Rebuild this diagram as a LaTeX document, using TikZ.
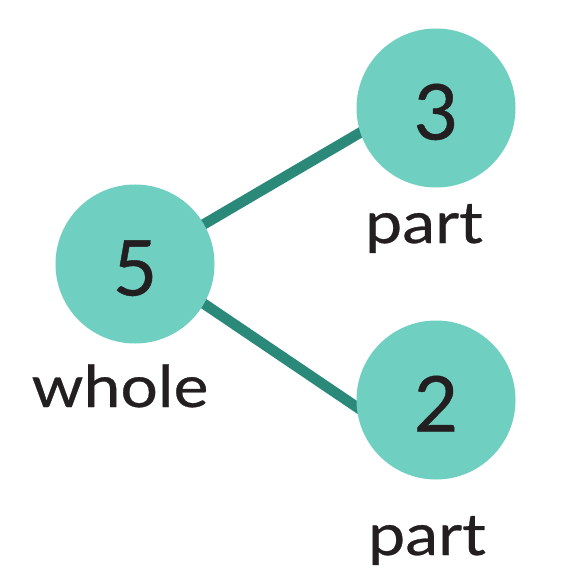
\documentclass[tikz,border=0pt]{standalone}
\usepackage{fontspec}
\usetikzlibrary{backgrounds}
\newfontfamily\digitfont{Lato}[FakeBold=0.5]
\newfontfamily\wordfont{Lato}[FakeBold=0.5,FakeStretch=1.14]
\definecolor{disc}{HTML}{6FCFC0}
\definecolor{bar}{HTML}{2B897A}
\definecolor{ink}{HTML}{231F20}
\begin{document}
\begin{tikzpicture}[x=1pt,y=-1pt,
  disc/.style={circle,fill=disc,minimum size=159pt,inner sep=0pt,text=ink,text height=63pt,text depth=0pt,font=\digitfont\fontsize{77}{80}\selectfont},
  word/.style={anchor=base,inner sep=0pt,text=ink,font=\wordfont\fontsize{58}{60}\selectfont},
  link/.style={draw=bar,line width=10.5pt,shorten <=-8pt,shorten >=-8pt}]
\useasboundingbox (0,0) rectangle (575,585);
\node[disc] (c5) at (135,264) {5};
\node[disc] (c3) at (436,108) {3};
\node[disc] (c2) at (436,400) {2};
\begin{scope}[on background layer]
\fill[white] (0,0) rectangle (575,585);
\draw[link] (c5.30) -- (c3.198);
\draw[link] (c5.-30) -- (c2.185);
\end{scope}
\node[word] (l5) at (120,407) {whole};
\node[word] (l3) at (424,243) {part};
\node[word] (l2) at (427,555) {part};
\end{tikzpicture}
\end{document}
